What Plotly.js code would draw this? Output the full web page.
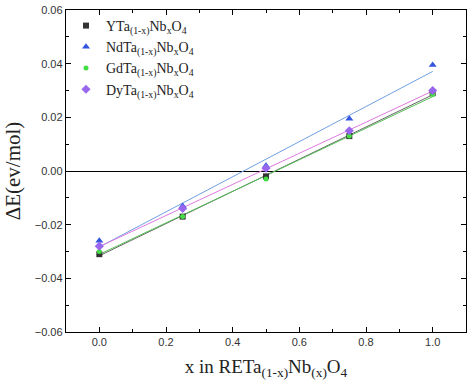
<!DOCTYPE html>
<html><head><meta charset="utf-8">
<script src="https://cdn.plot.ly/plotly-3.0.1.min.js"></script>
<style>body{margin:0;background:#fff}#c{width:474px;height:384px}</style>
</head><body><div id="c"></div>
<script>
const xVals = [0, 0.25, 0.5, 0.75, 1.0];
const names = ['YTa<sub>(1-x)</sub>Nb<sub>x</sub>O<sub>4</sub>','NdTa<sub>(1-x)</sub>Nb<sub>x</sub>O<sub>4</sub>','GdTa<sub>(1-x)</sub>Nb<sub>x</sub>O<sub>4</sub>','DyTa<sub>(1-x)</sub>Nb<sub>x</sub>O<sub>4</sub>'];
const yY  = [-0.031, -0.017, -0.002, 0.013, 0.029];
const yNd = [-0.026, -0.013, 0.002, 0.0195, 0.0395];
const yGd = [-0.030, -0.017, -0.003, 0.013, 0.0285];
const yDy = [-0.028, -0.014, 0.001, 0.015, 0.030];
// fitted line endpoints (at x=0 and x=1)
const fitX = [0, 1];
const fitY  = [-0.0316, 0.0284];
const fitNd = [-0.0283, 0.0371];
const fitGd = [-0.0311, 0.0277];
const fitDy = [-0.0282, 0.0298];

const series = [
  {y:yY, fit:fitY, sym:'square', mc:'#333333', lc:'#666666', sz:6},
  {y:yNd, fit:fitNd, sym:'triangle-up', mc:'#3355dd', lc:'#6fa0e0', sz:7},
  {y:yGd, fit:fitGd, sym:'circle', mc:'#44dd44', lc:'#55c055', sz:5},
  {y:yDy, fit:fitDy, sym:'diamond', mc:'#9966ee', lc:'#e07ae0', sz:7}
];
const traces = [];
series.forEach((s,i)=>{
  traces.push({x:fitX, y:s.fit, mode:'lines', line:{color:s.lc, width:1}, showlegend:false, hoverinfo:'skip'});
});
series.forEach((s,i)=>{
  traces.push({x:xVals, y:s.y, mode:'markers', name:names[i], marker:{symbol:s.sym, color:s.mc, size:s.sz}});
});
const serif = 'Liberation Serif, Times New Roman, serif';
const axBase = {showline:true, linecolor:'#000', linewidth:1.2, mirror:'ticks', ticks:'inside', ticklen:5, tickcolor:'#000', showgrid:false,
  tickfont:{family:'Liberation Sans, Arial, sans-serif', size:11, color:'#333'}};
const layout = {
  width:474, height:384,
  margin:{l:66, r:8, t:10, b:52},
  paper_bgcolor:'#fff', plot_bgcolor:'#fff',
  showlegend:true,
  legend:{x:0.0, y:1.0, xanchor:'left', yanchor:'top', bgcolor:'rgba(0,0,0,0)', itemsizing:'trace',
    font:{family:serif, size:14, color:'#222'}, itemwidth:30, tracegroupgap:0},
  xaxis:Object.assign({}, axBase, {range:[-0.1,1.1], dtick:0.2, tick0:0, tickformat:'.1f', zeroline:false,
    minor:{dtick:0.1, ticks:'inside', ticklen:3, tickcolor:'#000'},
    title:{text:'x in RETa<sub>(1-x)</sub>Nb<sub>(x)</sub>O<sub>4</sub>', font:{family:serif, size:19, color:'#222'}, standoff:12}}),
  yaxis:Object.assign({}, axBase, {range:[-0.06,0.06], dtick:0.02, tick0:0, tickformat:'.2f', zeroline:true, zerolinecolor:'#000', zerolinewidth:1,
    minor:{dtick:0.01, ticks:'inside', ticklen:3, tickcolor:'#000'},
    title:{text:'ΔE(ev/mol)', font:{family:serif, size:21, color:'#222'}, standoff:8}})
};
Plotly.newPlot('c', traces, layout, {displayModeBar:false, staticPlot:true});
</script></body></html>
